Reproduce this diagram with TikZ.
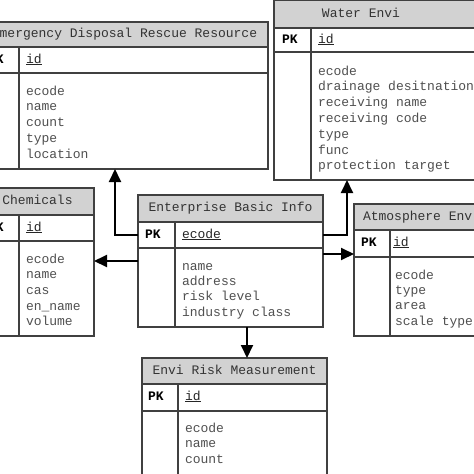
\documentclass[tikz,border=0pt]{standalone}
\usepackage{fontspec}
\setmonofont{Liberation Mono}
\usetikzlibrary{arrows.meta}
\definecolor{tblline}{HTML}{404040}
\definecolor{hdrgray}{HTML}{D2D2D2}
\definecolor{attrgray}{HTML}{505050}
\begin{document}
\begin{tikzpicture}[x=1pt,y=-1pt,
    every node/.style={font=\ttfamily\fontsize{13}{15.6}\selectfont, inner sep=0pt, outer sep=0pt},
    hdr/.style={draw=tblline, line width=1.2pt, fill=hdrgray, anchor=north west, rectangle},
    row/.style={draw=tblline, line width=1.2pt, fill=white, anchor=north west, rectangle},
    tbl/.style={draw=tblline, line width=1.2pt},
    title/.style={text=black!80, text height=9pt, text depth=3pt},
    pk/.style={anchor=west, text=black, font=\ttfamily\bfseries\fontsize{13}{15.6}\selectfont, text height=9pt, text depth=3pt},
    key/.style={anchor=west, text=black!85, text height=9pt, text depth=3pt},
    attr/.style={anchor=west, text=attrgray, text height=9pt, text depth=3pt},
    conn/.style={draw=black, line width=1.9pt, -{Triangle[length=13pt,width=12pt]}}]
    \useasboundingbox (0,0) rectangle (474,474);
    \fill[white] (0,0) rectangle (474,474);
    \clip (0,0) rectangle (474,474);

    % Emergency Disposal Rescue Resource
    \node[hdr, minimum width=287pt, minimum height=25pt] (emh) at (-19,22) {};
    \node[row, minimum width=287pt, minimum height=26pt] (emk) at (emh.south west) {};
    \node[row, minimum width=287pt, minimum height=96pt] (emb) at (emk.south west) {};
    \draw[tbl] (19,47) -- (19,169);
    \node[title] (emt) at (124.5,34.5) {Emergency Disposal Rescue Resource};
    \node[pk] (emp) at (-12,60) {PK};
    \node[key] (emf) at (26,60) {\underline{id}};
    \foreach \a [count=\i] in {ecode,name,count,type,location}
        \node[attr] (ema\i) at (26,92+15.75*\i-15.75) {\a};

    % Water Envi
    \node[hdr, minimum width=206pt, minimum height=27.5pt] (wah) at (274,0.5) {};
    \node[row, minimum width=206pt, minimum height=24pt] (wak) at (wah.south west) {};
    \node[row, minimum width=206pt, minimum height=128pt] (wab) at (wak.south west) {};
    \draw[tbl] (311,28) -- (311,180);
    \node[title] (wat) at (361,14) {Water Envi};
    \node[pk] (wap) at (282,40) {PK};
    \node[key] (waf) at (318,40) {\underline{id}};
    \foreach \a [count=\i] in {ecode,drainage desitnation,receiving name,receiving code,type,func,protection target}
        \node[attr] (waa\i) at (318,72+15.8*\i-15.8) {\a};

    % Chemicals
    \node[hdr, minimum width=113pt, minimum height=27pt] (chh) at (-19,188) {};
    \node[row, minimum width=113pt, minimum height=26pt] (chk) at (chh.south west) {};
    \node[row, minimum width=113pt, minimum height=95pt] (chb) at (chk.south west) {};
    \draw[tbl] (19,215) -- (19,336);
    \node[title] (cht) at (37.5,201.5) {Chemicals};
    \node[pk] (chp) at (-12,228) {PK};
    \node[key] (chf) at (26,228) {\underline{id}};
    \foreach \a [count=\i] in {ecode,name,cas,en\_name,volume}
        \node[attr] (cha\i) at (26,260+15.7*\i-15.7) {\a};

    % Enterprise Basic Info
    \node[hdr, minimum width=185pt, minimum height=27pt] (enth) at (138,195) {};
    \node[row, minimum width=185pt, minimum height=26pt] (entk) at (enth.south west) {};
    \node[row, minimum width=185pt, minimum height=79pt] (entb) at (entk.south west) {};
    \draw[tbl] (175,222) -- (175,327);
    \node[title] (entt) at (230.5,208.5) {Enterprise Basic Info};
    \node[pk] (entp) at (145,235) {PK};
    \node[key] (entf) at (182,235) {\underline{ecode}};
    \foreach \a [count=\i] in {name,address,risk level,industry class}
        \node[attr] (enta\i) at (182,267+15.4*\i-15.4) {\a};

    % Atmosphere Envi
    \node[hdr, minimum width=136pt, minimum height=26pt] (ath) at (354,204) {};
    \node[row, minimum width=136pt, minimum height=27pt] (atk) at (ath.south west) {};
    \node[row, minimum width=136pt, minimum height=79pt] (atb) at (atk.south west) {};
    \draw[tbl] (390,230) -- (390,336);
    \node[title, anchor=west] (att) at (363,217) {Atmosphere Env};
    \node[pk] (atp) at (361,243) {PK};
    \node[key] (atf) at (393,243) {\underline{id}};
    \foreach \a [count=\i] in {ecode,type,area,scale type}
        \node[attr] (ata\i) at (395,276+15.4*\i-15.4) {\a};

    % Envi Risk Measurement
    \node[hdr, minimum width=185pt, minimum height=26pt] (erh) at (142,358) {};
    \node[row, minimum width=185pt, minimum height=27pt] (erk) at (erh.south west) {};
    \node[row, minimum width=185pt, minimum height=79pt] (erb) at (erk.south west) {};
    \draw[tbl] (178,384) -- (178,490);
    \node[title] (ert) at (234.5,371) {Envi Risk Measurement};
    \node[pk] (erp) at (148,397) {PK};
    \node[key] (erf) at (185,397) {\underline{id}};
    \foreach \a [count=\i] in {ecode,name,count}
        \node[attr] (era\i) at (185,429+15.5*\i-15.5) {\a};

    % references
    \coordinate (entl) at ([yshift=26.5pt]entb.west);
    \coordinate (entr) at ([yshift=33.5pt]entb.east);
    \coordinate (entd) at ([xshift=16.5pt]entb.south);
    \draw[conn] (entk.west) -| ([xshift=-9.5pt]emb.south);
    \draw[conn] (entk.east) -| ([xshift=-30pt]wab.south);
    \draw[conn] (entl) -- (entl -| chb.east);
    \draw[conn] (entr) -- (entr -| atk.west);
    \draw[conn] (entd) -- (entd |- erh.north);
\end{tikzpicture}
\end{document}
